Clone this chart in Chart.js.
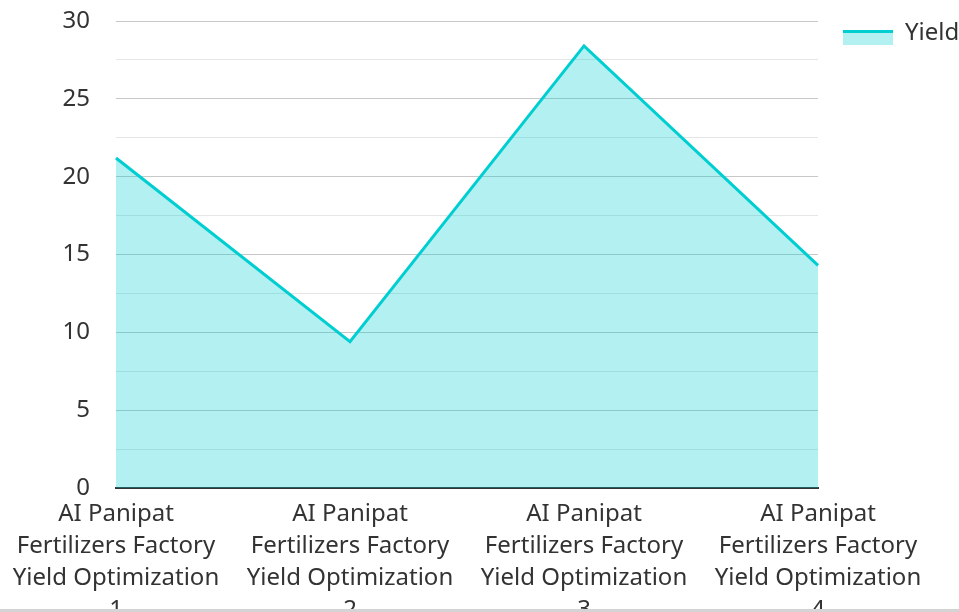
<!DOCTYPE html>
<html>
<head>
<meta charset="utf-8">
<script src="https://cdn.jsdelivr.net/npm/chart.js@4.4.1/dist/chart.umd.min.js"></script>
<style>
  html, body { margin: 0; padding: 0; background: #fff; overflow: hidden; }
  #wrap { position: relative; width: 959px; height: 625px; }
  #strip { position: fixed; left: 0; bottom: 0; width: 959px; height: 3px; background: #d4d4d4; }
</style>
</head>
<body>
<div id="wrap"><canvas id="chart"></canvas></div>
<div id="strip"></div>
<script>
const categories = [
  ["AI Panipat", "Fertilizers Factory", "Yield Optimization", "1"],
  ["AI Panipat", "Fertilizers Factory", "Yield Optimization", "2"],
  ["AI Panipat", "Fertilizers Factory", "Yield Optimization", "3"],
  ["AI Panipat", "Fertilizers Factory", "Yield Optimization", "4"]
];
const seriesName = "Yield";
const yieldValues = [21.2, 9.4, 28.4, 14.3];
const yMin = 0;
const yMax = 30;

const lineColor = "rgb(0, 206, 209)";
const fillColor = "rgba(0, 206, 209, 0.3)";

// legend swatch: light box with a thick line along the top, transparent margin left/top
const swatchGap = 25;
const swatch = document.createElement("canvas");
swatch.width = 50 + swatchGap;
swatch.height = 30;
const sctx = swatch.getContext("2d");
sctx.fillStyle = fillColor;
sctx.fillRect(swatchGap, 12, 50, 15);
sctx.fillStyle = lineColor;
sctx.fillRect(swatchGap, 12, 50, 3);

Chart.defaults.font.family = "'Noto Sans', 'Open Sans', sans-serif";
Chart.defaults.font.size = 24;
Chart.defaults.font.lineHeight = 1.33;
Chart.defaults.color = "#333";

const ctx = document.getElementById("chart").getContext("2d");
const chart = new Chart(ctx, {
  type: "line",
  data: {
    labels: categories,
    datasets: [{
      label: seriesName,
      data: yieldValues,
      borderColor: lineColor,
      backgroundColor: fillColor,
      borderWidth: 3,
      fill: "origin",
      pointRadius: 0,
      tension: 0
    }]
  },
  options: {
    responsive: true,
    maintainAspectRatio: false,
    animation: false,
    layout: { padding: { top: 21, right: 0, left: 16, bottom: 0 } },
    plugins: {
      tooltip: { enabled: false },
      legend: {
        position: "right",
        align: "start",
        maxWidth: 141,
        labels: {
          usePointStyle: true,
          pointStyle: swatch,
          pointStyleWidth: 50 + swatchGap,
          padding: 0,
          color: "#333",
          font: { size: 24 }
        }
      }
    },
    scales: {
      x: {
        offset: false,
        grid: { display: false },
        border: { display: true, color: "#333", width: 2 },
        ticks: { maxRotation: 0, autoSkip: false, padding: 2, color: "#333" },
        afterFit: s => { s.paddingTop = 0; s.paddingBottom = 0; s.paddingLeft = 116; s.height = 137; }
      },
      y: {
        min: yMin,
        max: yMax,
        border: { display: false },
        grid: {
          drawTicks: false,
          color: c => (c.tick && c.tick.value % 5 === 0) ? "#c8c8c8" : "#e6e6e6",
          lineWidth: 1
        },
        ticks: {
          stepSize: 2.5,
          padding: 26,
          color: "#333",
          callback: v => (v % 5 === 0 ? v : "")
        },
        afterFit: s => { s.paddingTop = 0; s.paddingBottom = 0; }
      }
    }
  }
});
</script>
</body>
</html>
